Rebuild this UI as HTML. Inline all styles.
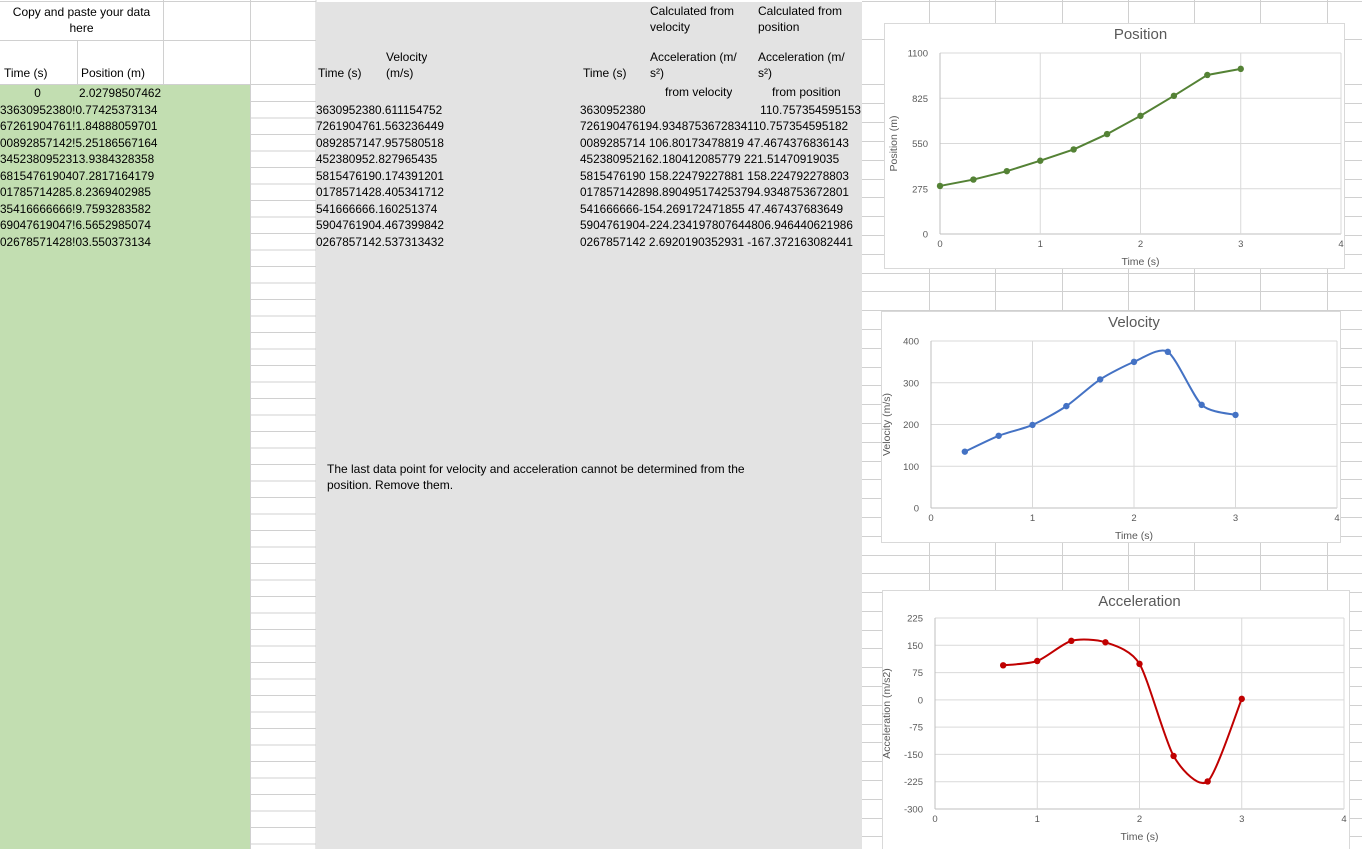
<!DOCTYPE html>
<html><head><meta charset="utf-8"><style>
body{margin:0;width:1362px;height:849px;overflow:hidden;background:#fff;font-family:"Liberation Sans",sans-serif;position:relative;color:#000}
.a{position:absolute;white-space:pre;font-size:12px;line-height:16px;overflow:hidden}
</style></head><body>
<svg width="1362" height="849" style="position:absolute;left:0;top:0" id="grid"></svg>
<div style="position:absolute;left:0;top:85px;width:250px;height:764px;background:#c2deb1"></div>
<div style="position:absolute;left:316px;top:2px;width:546px;height:847px;background:#e3e3e3"></div>
<div class="a" style="left:0;top:4px;width:163px;text-align:center">Copy and paste your data
here</div>
<div class="a" style="left:4px;top:65px">Time (s)</div>
<div class="a" style="left:81px;top:65px">Position (m)</div>
<div class="a" style="left:318px;top:65px">Time (s)</div>
<div class="a" style="left:386px;top:49px">Velocity
(m/s)</div>
<div class="a" style="left:583px;top:65px">Time (s)</div>
<div class="a" style="left:650px;top:3px">Calculated from
velocity</div>
<div class="a" style="left:758px;top:3px">Calculated from
position</div>
<div class="a" style="left:650px;top:49px">Acceleration (m/
s²)</div>
<div class="a" style="left:758px;top:49px">Acceleration (m/
s²)</div>
<div class="a" style="left:665px;top:84px">from velocity</div>
<div class="a" style="left:772px;top:84px">from position</div>
<div class="a" style="left:327px;top:461px">The last data point for velocity and acceleration cannot be determined from the
position. Remove them.</div>
<div id="cells"></div>
<svg width="1362" height="849" style="position:absolute;left:0;top:0" id="ch"></svg>
<script>
const rowsL=["","33630952380!0.77425373134","67261904761!1.84888059701","00892857142!5.25186567164","3452380952313.9384328358","6815476190407.2817164179","01785714285.8.2369402985","35416666666!9.7593283582","69047619047!6.5652985074","02678571428!03.550373134"];
const rowsV=["3630952380.611154752","7261904761.563236449","0892857147.957580518","452380952.827965435","5815476190.174391201","0178571428.405341712","541666666.160251374","5904761904.467399842","0267857142.537313432"];
const rowsA=["3630952380","726190476194.9348753672834110.757354595182","0089285714 106.80173478819 47.4674376836143","452380952162.180412085779 221.51470919035","5815476190 158.22479227881 158.224792278803","017857142898.890495174253794.9348753672801","541666666-154.269172471855 47.467437683649","5904761904-224.234197807644806.946440621986","0267857142 2.6920190352931 -167.372163082441"];
const posT=[0,1/3,2/3,1,4/3,5/3,2,7/3,8/3,3];
const posV=[292.03,330.77,381.85,445.25,513.94,607.28,718.24,839.76,966.57,1003.55];
const velT=[1/3,2/3,1,4/3,5/3,2,7/3,8/3,3];
const velV=[135,173,199,244,308,350,374,247,223];
const accT=[2/3,1,4/3,5/3,2,7/3,8/3,3];
const accV=[94.93,106.80,162.18,158.22,98.89,-154.27,-224.23,2.69];
const posTicks=[0,275,550,825,1100];
const velTicks=[0,100,200,300,400];
const accTicks=[-300,-225,-150,-75,0,75,150,225];
const xTicks=[0,1,2,3,4];

const NS="http://www.w3.org/2000/svg";
const cells=document.getElementById('cells');
function cell(txt,x,y,w,align,name){const d=document.createElement('div');d.className='a';d.style.left=x+'px';d.style.top=y+'px';d.style.width=w+'px';d.style.textAlign=align||'left';d.style.fontSize='11.8px';d.textContent=txt;


cells.appendChild(d);}
cell("0",0,85,75,'center','time-cell');
cell("2.02798507462",79,85,84,'left','position-cell');
for(let i=1;i<rowsL.length;i++)cell(rowsL[i],0,85+16.5*i,163,'left','data-row');
for(let i=0;i<rowsV.length;i++)cell(rowsV[i],316,85+16.5*(i+1),135,'left','velocity-row');
for(let i=0;i<rowsA.length;i++)cell(rowsA[i],580,85+16.5*(i+1),282,'left','acceleration-row');
cell("110.757354595153",740,101.5,121,'right','acc-pos-cell');

function el(p,tag,at,txt){const e=document.createElementNS(NS,tag);for(const k in at)e.setAttribute(k,at[k]);if(txt!==undefined)e.textContent=txt;p.appendChild(e);return e;}
const g=document.getElementById('grid');
const gc="#d0d0d0";
function ln(x1,y1,x2,y2){const l=el(g,'line',{x1,y1,x2,y2,stroke:gc,'stroke-width':1});

}
ln(0,1.5,316,1.5);ln(0,40.5,316,40.5);ln(0,84.5,316,84.5);
ln(163.5,0,163.5,84);ln(77.5,40,77.5,84);ln(250.5,0,250.5,849);ln(316,0,316,849);
for(let y=101;y<849;y+=16.5)ln(250,y+0.5,316,y+0.5);
ln(862,1.5,1362,1.5);ln(862,39.5,1362,39.5);ln(862,84.5,1362,84.5);
for(let y=103.3;y<849;y+=18.8)ln(862,Math.round(y)+0.5,1362,Math.round(y)+0.5);
for(let x=929;x<1362;x+=66.3)ln(Math.round(x)+0.5,0,Math.round(x)+0.5,849);

const s=document.getElementById('ch');
function smooth(pts){const k=8;let d=`M${pts[0][0]},${pts[0][1]}`;for(let i=0;i<pts.length-1;i++){const p0=pts[i-1]||pts[i],p1=pts[i],p2=pts[i+1],p3=pts[i+2]||p2;
const c1=[p1[0]+(p2[0]-p0[0])/k,p1[1]+(p2[1]-p0[1])/k],c2=[p2[0]-(p3[0]-p1[0])/k,p2[1]-(p3[1]-p1[1])/k];d+=` C${c1[0]},${c1[1]} ${c2[0]},${c2[1]} ${p2[0]},${p2[1]}`;}return d;}
function chart(c){
 const bx=el(s,'rect',{x:c.box[0]+.5,y:c.box[1]+.5,width:c.box[2]-c.box[0],height:c.box[3]-c.box[1],fill:'#fff',stroke:'#d9d9d9'});
 
 
 const yMin=c.yt[0],yMax=c.yt[c.yt.length-1];
 const X=v=>c.px[0]+(v-0)/(4-0)*(c.px[1]-c.px[0]);
 const Y=v=>c.py[1]-(v-yMin)/(yMax-yMin)*(c.py[1]-c.py[0]);
 c.yt.forEach(v=>{const y=Y(v);const l=el(s,'line',{x1:c.px[0],x2:c.px[1],y1:y,y2:y,stroke:v===yMin?'#bfbfbf':'#d9d9d9'});
  
  
  const t=el(s,'text',{x:c.px[0]-12,y:y+3.5,'text-anchor':'end','font-size':9.5,fill:'#595959'},String(v));
  
  });
 xTicks.forEach(v=>{const x=X(v);const l=el(s,'line',{x1:x,x2:x,y1:c.py[0],y2:c.py[1],stroke:v===0?'#bfbfbf':'#d9d9d9'});
  
  
  const t=el(s,'text',{x:x,y:c.py[1]+13,'text-anchor':'middle','font-size':9.5,fill:'#595959'},String(v));
  
  });
 const tt=el(s,'text',{x:(c.px[0]+c.px[1])/2,y:c.box[1]+16,'text-anchor':'middle','font-size':15,fill:'#595959'},c.title);
 
 
 const xt=el(s,'text',{x:(c.px[0]+c.px[1])/2,y:c.py[1]+31,'text-anchor':'middle','font-size':10.5,fill:'#595959'},'Time (s)');
 
 
 const cy=(c.py[0]+c.py[1])/2;
 const yt=el(s,'text',{x:c.yx,y:cy,'text-anchor':'middle','font-size':10.5,fill:'#595959',transform:`rotate(-90 ${c.yx} ${cy})`},c.ytitle);
 
 
 const pts=c.t.map((t,i)=>[X(t),Y(c.v[i])]);
 const p=el(s,'path',{d:c.smooth?smooth(pts):'M'+pts.map(q=>q.join(',')).join(' L'),fill:'none',stroke:c.color,'stroke-width':2});
 
 
 pts.forEach(q=>{const m=el(s,'circle',{cx:q[0],cy:q[1],r:3.2,fill:c.color});
  
  });
}
chart({name:'position',title:'Position',ytitle:'Position (m)',box:[884,23,1344,268],px:[940,1341],py:[53,234],yt:posTicks,t:posT,v:posV,color:'#548235',yx:897,smooth:false});
chart({name:'velocity',title:'Velocity',ytitle:'Velocity (m/s)',box:[881,311,1340,542],px:[931,1337],py:[341,508],yt:velTicks,t:velT,v:velV,color:'#4472c4',yx:890,smooth:true});
chart({name:'acceleration',title:'Acceleration',ytitle:'Acceleration (m/s2)',box:[882,590,1349,852],px:[935,1344],py:[618,809],yt:accTicks,t:accT,v:accV,color:'#c00000',yx:890,smooth:true});
</script>
</body></html>
